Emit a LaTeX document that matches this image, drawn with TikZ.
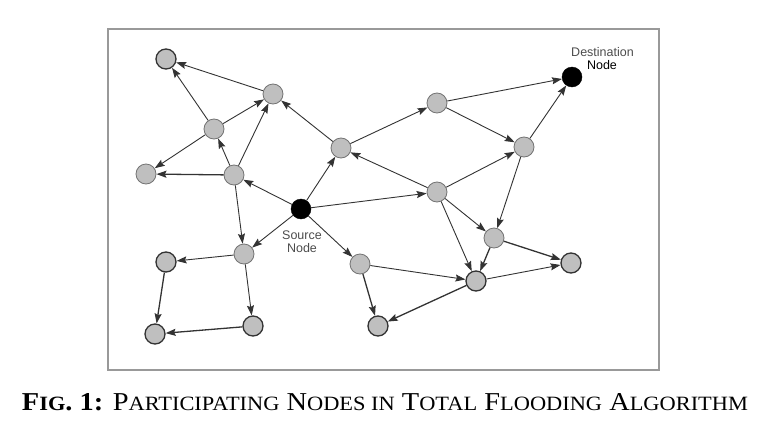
\documentclass[tikz,border=0pt]{standalone}
\usepackage{fontspec}
\setmainfont{Liberation Serif}
\newfontfamily\arialf{Liberation Sans}
\usetikzlibrary{arrows.meta}
\newcommand\fsc[2]{#1{\fontsize{20.5}{20}\selectfont #2}}
\begin{document}
\begin{tikzpicture}[x=1pt,y=-1pt,
  gn/.style={circle,draw=black!55,line width=0.8pt,fill=black!25,minimum size=20pt,inner sep=0pt},
  dn/.style={circle,draw=black!80,line width=1.3pt,fill=black!25,minimum size=20pt,inner sep=0pt},
  bn/.style={circle,draw=black,fill=black,minimum size=20pt,inner sep=0pt},
  ed/.style={draw=black!80,line width=0.9pt,-{Stealth[length=10pt,width=7pt,inset=1.5pt]}},
  edt/.style={ed,line width=1.3pt},
  lab/.style={font=\arialf\fontsize{12.5}{13}\selectfont,text=black!70,inner sep=0pt}]
\useasboundingbox (0,0) rectangle (772,434);
\draw[black!40,line width=1.3pt] (108,29) rectangle (659,370);
% nodes
\node[dn] (A) at (166,59) {};
\node[gn] (B) at (273,94) {};
\node[gn] (C) at (214,129) {};
\node[gn] (D) at (146,174) {};
\node[gn] (E) at (234,175) {};
\node[gn] (F) at (341,148) {};
\node[bn] (S) at (301,209) {};
\node[gn] (G) at (437,103) {};
\node[gn] (H) at (524,147) {};
\node[bn] (T) at (572,77) {};
\node[gn] (I) at (437,192) {};
\node[gn] (J) at (494,238) {};
\node[gn] (K) at (244,254) {};
\node[dn] (L) at (166,262) {};
\node[gn] (M) at (360,264) {};
\node[dn] (N) at (476,281) {};
\node[dn] (O) at (571,263) {};
\node[dn] (P) at (155,334) {};
\node[dn] (Q) at (253,326) {};
\node[dn] (R) at (378,326) {};
% labels
\node[lab] (s1) at (302,235) {Source};
\node[lab] (s2) at (302,248) {Node};
\node[lab] (d1) at (602.5,52) {Destination};
\node[lab,text=black] (d2) at (602,65) {Node};
% edges
\draw[ed] (B) -- (A);
\draw[ed] (C) -- (A);
\draw[ed] (C) -- (B);
\draw[ed] (E) -- (B);
\draw[ed] (E) -- (C);
\draw[ed] (C) -- (D);
\draw[edt] (E) -- (D);
\draw[ed] (S) -- (E);
\draw[ed] (F) -- (B);
\draw[ed] (S) -- (F);
\draw[ed] (I) -- (F);
\draw[ed] (S) -- (I);
\draw[ed] (F) -- (G);
\draw[ed] (G) -- (T);
\draw[ed] (G) -- (H);
\draw[ed] (I) -- (H);
\draw[ed] (H) -- (T);
\draw[ed] (H) -- (J);
\draw[ed] (I) -- (J);
\draw[ed] (I) -- (N);
\draw[edt] (J) -- (N);
\draw[edt] (J) -- (O);
\draw[ed] (N) -- (O);
\draw[ed] (M) -- (N);
\draw[edt] (N) -- (R);
\draw[edt] (M) -- (R);
\draw[ed] (S) -- (M);
\draw[ed] (S) -- (K);
\draw[ed] (E) -- (K);
\draw[ed] (K) -- (L);
\draw[ed] (K) -- (Q);
\draw[edt] (L) -- (P);
\draw[edt] (Q) -- (P);
% caption
\node[inner sep=0pt,anchor=south] (cap) at (385,411) {\resizebox{726pt}{17pt}{\fontsize{26}{26}\selectfont\textbf{\fsc{F}{IG}. 1:} \fsc{P}{ARTICIPATING} \fsc{N}{ODES IN} \fsc{T}{OTAL} \fsc{F}{LOODING} \fsc{A}{LGORITHM}}};
\end{tikzpicture}
\end{document}
